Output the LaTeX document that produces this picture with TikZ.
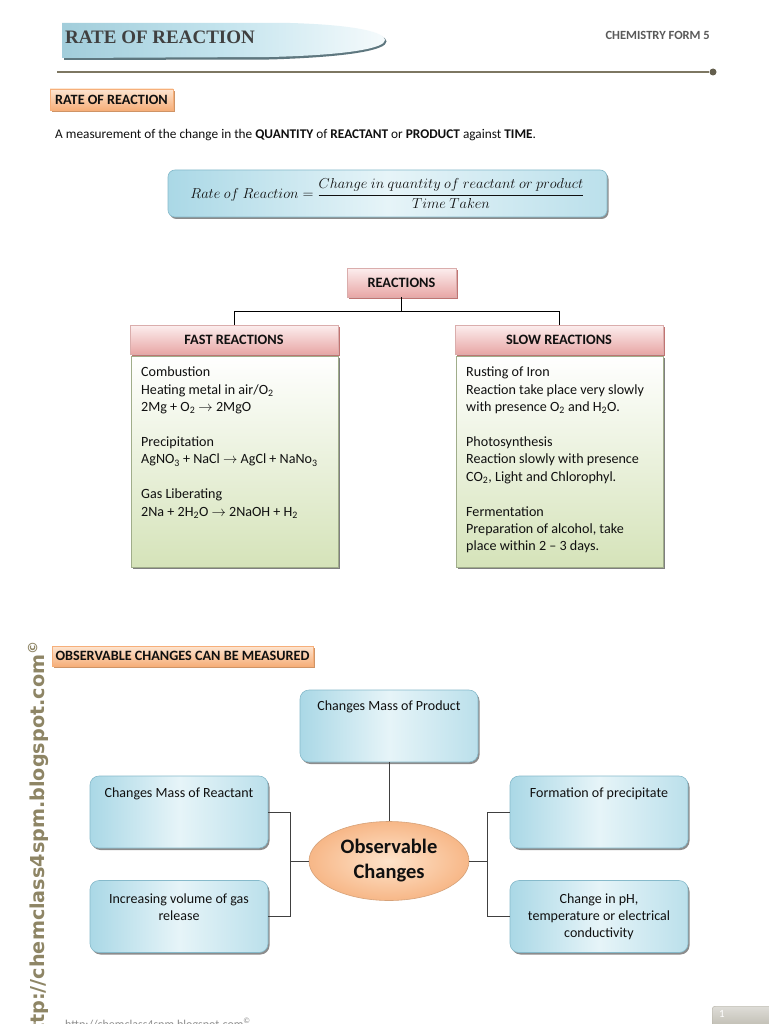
\documentclass[tikz,border=0pt]{standalone}
\usepackage{fontspec}
\setmainfont{Carlito}
\newfontfamily\serifbold{Liberation Serif}
\newfontfamily\wmfont{DejaVu Sans}
\usetikzlibrary{shapes.geometric,calc,shadows}
\definecolor{bluedk}{HTML}{AAD8E6}
\definecolor{bluelt}{HTML}{E6F4F8}
\definecolor{blueedge}{HTML}{86BACB}
\definecolor{pinktop}{HTML}{FCEEEE}
\definecolor{pinkbot}{HTML}{E8A7A6}
\definecolor{pinkedge}{HTML}{B65C5A}
\definecolor{orangetop}{HTML}{FDE5D1}
\definecolor{orangebot}{HTML}{F6AF7A}
\definecolor{orangeedge}{HTML}{C47A40}
\definecolor{greenbot}{HTML}{D5E3B9}
\definecolor{greenedge}{HTML}{A0AD8A}
\definecolor{olive}{HTML}{7D7762}
\definecolor{wmcol}{HTML}{8E8565}
\definecolor{txt}{HTML}{101010}
\definecolor{linec}{HTML}{404040}
\newcommand\chsub[1]{\textsubscript{#1}}
\begin{document}
\begin{tikzpicture}[x=1pt,y=-1pt,
  every node/.style={text=txt},
  bluebox/.style={rectangle, rounded corners=9pt, draw=blueedge, line width=0.6pt,
    left color=bluedk, right color=bluedk!80, middle color=bluelt,
    drop shadow={shadow xshift=1.5pt, shadow yshift=-2pt, fill=black, opacity=0.45},
    minimum width=178pt, minimum height=72pt, inner sep=0pt},
  boxtext/.style={font=\fontsize{14}{17}\selectfont, align=center, inner sep=0pt},
  tagbox/.style={rectangle, top color=orangetop, bottom color=orangebot, draw=orangebot,
    line width=0.4pt,
    drop shadow={shadow xshift=2pt, shadow yshift=-2pt, fill=orangeedge, opacity=0.8},
    font=\bfseries\fontsize{14.2}{16}\selectfont, inner sep=0pt},
  headbox/.style={rectangle, top color=pinktop, bottom color=pinkbot, draw=pinkedge!50,
    line width=0.5pt,
    drop shadow={shadow xshift=1.5pt, shadow yshift=-2pt, fill=pinkedge, opacity=0.85},
    font=\bfseries\fontsize{14.3}{16}\selectfont, inner sep=0pt, minimum height=29pt},
  greenbox/.style={rectangle, top color=white, bottom color=greenbot, draw=greenedge,
    line width=0.5pt,
    drop shadow={shadow xshift=1.5pt, shadow yshift=-2pt, fill=black, opacity=0.5},
    minimum width=207pt, minimum height=211pt, inner sep=0pt},
  listtext/.style={font=\fontsize{14.1}{17.4}\selectfont, align=left, inner sep=0pt, anchor=north west},
  conn/.style={draw=linec, line width=1pt},
  conn2/.style={draw=black, line width=0.8pt}
]
\path[use as bounding box, fill=white] (0,0) rectangle (768,1024);

% ---------- header ----------
\draw[draw=none, fill=black!45!bluedk] (64,25) -- (290,25)
  .. controls (360,27) and (386.5,34) .. (386.5,41.5)
  .. controls (386.5,50) and (350,57) .. (270,59.5) -- (64,60) -- cycle;
\shade[left color=bluedk!95!black, right color=bluelt!40!white, middle color=bluedk!70!white] (62,23) -- (290,23)
  .. controls (360,25) and (385,33) .. (385,40)
  .. controls (385,48) and (350,55) .. (270,57) -- (62,58) -- cycle;
\node[font=\serifbold\bfseries\fontsize{19}{21}\selectfont, text=black!75, anchor=base west, inner sep=0pt]
  (title) at (65,44) {RATE OF REACTION};
\node[font=\bfseries\fontsize{12.5}{14}\selectfont, text=black!65, anchor=base east, inner sep=0pt]
  (form) at (710,40) {CHEMISTRY FORM 5};
\coordinate (hlineL) at (57,72);
\node[circle, fill=olive!80!black, minimum size=7pt, inner sep=0pt] (hdot) at (713,72) {};
\draw[olive, line width=1.3pt] (hlineL) -- (hdot);

% ---------- rate of reaction ----------
\node[tagbox, minimum width=123pt, minimum height=21pt] (tag1) at (111.5,99.5) {RATE OF REACTION};
\node[font=\fontsize{13.3}{15}\selectfont, anchor=base west, inner sep=0pt] (defn) at (55,138.5)
  {A measurement of the change in the \textbf{QUANTITY} of \textbf{REACTANT} or \textbf{PRODUCT} against \textbf{TIME}.};
\node[rectangle, rounded corners=7pt, draw=blueedge, line width=0.6pt,
    left color=bluedk, right color=bluedk!80, middle color=bluelt,
    drop shadow={shadow xshift=1.5pt, shadow yshift=-2pt, fill=black, opacity=0.45},
    minimum width=439pt, minimum height=47pt, inner sep=0pt,
    font=\fontsize{15.4}{17}\selectfont] (formula) at (387.5,193.5)
  {$\displaystyle Rate\ of\ Reaction=\frac{Change\ in\ quantity\ of\ reactant\ or\ product}{Time\ Taken}$};

% ---------- reactions ----------
\node[headbox, minimum width=109pt] (reac) at (401.5,282.5) {REACTIONS};
\node[headbox, minimum width=208pt] (fast) at (234,339.5) {FAST REACTIONS};
\node[headbox, minimum width=208pt] (slow) at (559,339.5) {SLOW REACTIONS};
\draw[conn2] (reac.south) -- ++(0,14) -| (fast.north);
\draw[conn2] (reac.south) -- ++(0,14) -| (slow.north);

\node[greenbox] (fastbox) at (234.5,461.5) {};
\node[greenbox] (slowbox) at (559.5,461.5) {};
\node[listtext] (fasttext) at (141,367) {%
Combustion\\
Heating metal in air/O\chsub{2}\\
2Mg + O\chsub{2} $\rightarrow$ 2MgO\\[17.4pt]
Precipitation\\
AgNO\chsub{3} + NaCl $\rightarrow$ AgCl + NaNo\chsub{3}\\[17.4pt]
Gas Liberating\\
2Na + 2H\chsub{2}O $\rightarrow$ 2NaOH + H\chsub{2}};
\node[listtext] (slowtext) at (466,367) {%
Rusting of Iron\\
Reaction take place very slowly\\
with presence O\chsub{2} and H\chsub{2}O.\\[17.4pt]
Photosynthesis\\
Reaction slowly with presence\\
CO\chsub{2}, Light and Chlorophyl.\\[17.4pt]
Fermentation\\
Preparation of alcohol, take\\
place within 2 -- 3 days.};

% ---------- observable changes ----------
\node[tagbox, minimum width=261pt, minimum height=20pt] (tag2) at (182.5,656) {OBSERVABLE CHANGES CAN BE MEASURED};

\node[bluebox] (prod) at (389,726) {};
\node[bluebox] (mreac) at (179,812) {};
\node[bluebox] (gas) at (179,916.5) {};
\node[bluebox] (prec) at (599,812) {};
\node[bluebox] (ph) at (599,916.5) {};
\node[boxtext, anchor=base] (prodt) at ($(prod.north)+(0,21)$) {Changes Mass of Product};
\node[boxtext, anchor=base] (mreact) at ($(mreac.north)+(0,22)$) {Changes Mass of Reactant};
\node[boxtext, anchor=north] (gast) at ($(gas.north)+(0,13)$) {Increasing volume of gas\\release};
\node[boxtext, anchor=base] (prect) at ($(prec.north)+(0,22)$) {Formation of precipitate};
\node[boxtext, anchor=north] (pht) at ($(ph.north)+(0,13)$) {Change in pH,\\temperature or electrical\\conductivity};

\node[ellipse, minimum width=160pt, minimum height=79pt, inner sep=0pt,
  inner color=orangetop!80!orange!60, outer color=orangebot!90!white, draw=orangeedge!70, line width=0.6pt,
  font=\bfseries\fontsize{20.5}{25}\selectfont, align=center] (obs) at (389,861) {\raisebox{-2.5pt}{Observable}\\\raisebox{-2.5pt}{Changes}};

\draw[conn] (prod.south) -- (obs.north);
\draw[conn] (mreac.east) -- ++(22,0) |- (gas.east);
\draw[conn] (obs.west) -- ($(mreac.east |- obs.west)+(22,0)$);
\draw[conn] (prec.west) -- ++(-22,0) |- (ph.west);
\draw[conn] (obs.east) -- ($(prec.west |- obs.east)+(-22,0)$);

% ---------- watermark & footer ----------
\node[rotate=90, anchor=east, inner sep=0pt, text=wmcol,
  font=\wmfont\bfseries\fontsize{19.2}{22}\selectfont] (wm) at (38.5,641)
  {http://chemclass4spm.blogspot.com\textsuperscript{\fontsize{13}{13}\selectfont ©}};
\node[anchor=base west, inner sep=0pt, text=black!45, font=\fontsize{12}{14}\selectfont] (foot) at (65,1028)
  {http://chemclass4spm.blogspot.com\textsuperscript{©}};
\node[rectangle, rounded corners=3pt, top color=olive!25, bottom color=olive!55, draw=olive!60,
  minimum width=60pt, minimum height=26pt, anchor=north west, inner sep=0pt] (pg) at (712,1006) {};
\node[anchor=north west, inner sep=0pt, text=white, font=\fontsize{11}{12}\selectfont] (pgn) at (719,1010) {1};
\end{tikzpicture}
\end{document}
